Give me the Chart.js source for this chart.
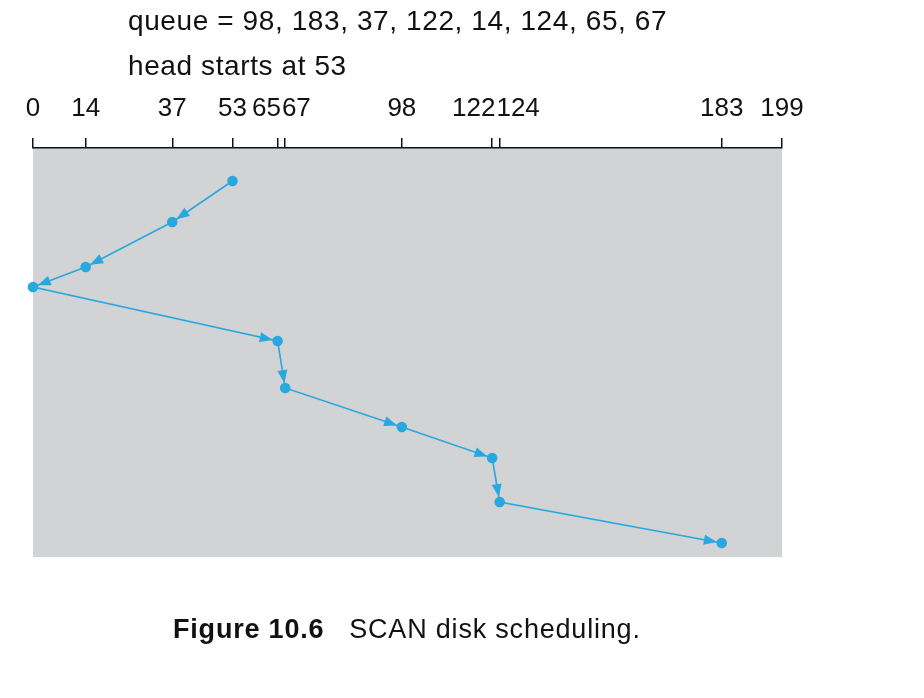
<!DOCTYPE html>
<html><head><meta charset="utf-8">
<script src="https://cdn.jsdelivr.net/npm/chart.js@4"></script>
<style>
body{margin:0;background:#fff;font-family:"Liberation Sans",Arial,sans-serif;}
#wrap{position:absolute;left:0;top:0;width:924px;height:698px;}
.t{position:absolute;font-size:28px;color:#111;white-space:nowrap;letter-spacing:0.6px;}
</style></head><body>
<div id="wrap"><canvas id="c"></canvas></div>
<div class="t" style="left:128px;top:5px">queue = 98, 183, 37, 122, 14, 124, 65, 67</div>
<div class="t" style="left:128px;top:50px">head starts at 53</div>
<div class="t" style="left:173px;top:614px;font-size:27px;letter-spacing:0.8px"><b>Figure 10.6</b>&nbsp;&nbsp;&nbsp;SCAN disk scheduling.</div>
<script>
const cylinders = [53, 37, 14, 0, 65, 67, 98, 122, 124, 183];
const timeSteps = [33, 74, 119, 139, 193, 240, 279, 310, 354, 395];
const tickValues = [0, 14, 37, 53, 65, 67, 98, 122, 124, 183, 199];
const COLOR = '#29a8e0';

const bgPlugin = {id:'bg', beforeDraw(ch){const a=ch.chartArea,c=ch.ctx;c.save();c.fillStyle='#d1d3d4';c.fillRect(a.left,a.top,a.right-a.left,a.bottom-a.top);c.restore();}};
const labelPlugin = {id:'lbl', afterDraw(ch){
  const s=ch.scales.x,c=ch.ctx;c.save();c.font='26px "Liberation Sans", Arial, sans-serif';c.fillStyle='#111';c.textAlign='center';c.textBaseline='bottom';
  const items=tickValues.map(v=>({t:String(v),x:s.getPixelForValue(v),w:c.measureText(String(v)).width}));
  for(let k=0;k<30;k++){for(let i=0;i<items.length-1;i++){const a=items[i],b=items[i+1];const need=(a.w+b.w)/2+1;const d=b.x-a.x;if(d<need){const p=(need-d)/2;a.x-=p;b.x+=p;}}}
  items.forEach(it=>c.fillText(it.t,it.x,s.bottom-26));c.restore();}};
const arrowPlugin = {id:'arr', afterDatasetsDraw(ch){
  const m=ch.getDatasetMeta(0).data,c=ch.ctx;c.save();c.fillStyle=COLOR;
  for(let i=1;i<m.length;i++){const p0=m[i-1],p1=m[i];const ang=Math.atan2(p1.y-p0.y,p1.x-p0.x);
    const tx=p1.x-Math.cos(ang)*5,ty=p1.y-Math.sin(ang)*5;c.beginPath();c.moveTo(tx,ty);
    c.lineTo(tx-13*Math.cos(ang)+5*Math.sin(ang),ty-13*Math.sin(ang)-5*Math.cos(ang));
    c.lineTo(tx-13*Math.cos(ang)-5*Math.sin(ang),ty-13*Math.sin(ang)+5*Math.cos(ang));c.closePath();c.fill();}
  c.restore();}};

new Chart(document.getElementById('c'),{
  type:'scatter',
  data:{datasets:[{data:cylinders.map((v,i)=>({x:v,y:timeSteps[i]})),showLine:true,borderColor:COLOR,backgroundColor:COLOR,borderWidth:1.6,pointRadius:4.5,pointHoverRadius:4.5,clip:false}]},
  options:{responsive:true,maintainAspectRatio:false,animation:false,
    layout:{padding:{left:33,right:142,top:90,bottom:141}},
    plugins:{legend:{display:false},tooltip:{enabled:false}},
    scales:{
      x:{type:'linear',position:'top',min:0,max:199,
        afterBuildTicks(s){s.ticks=tickValues.map(v=>({value:v}));},
        afterFit(s){s.height=58;},
        ticks:{display:false,autoSkip:false},
        grid:{drawOnChartArea:false,tickLength:10,color:'#111',lineWidth:1.5},
        border:{display:true,color:'#111',width:1.5}},
      y:{display:false,min:0,max:409,reverse:true}
    }},
  plugins:[bgPlugin,labelPlugin,arrowPlugin]
});
</script></body></html>
